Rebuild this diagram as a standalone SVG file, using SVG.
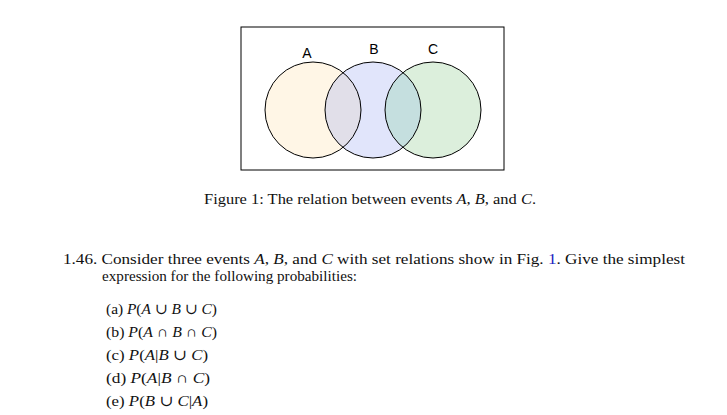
<svg xmlns="http://www.w3.org/2000/svg" width="727" height="415" viewBox="0 0 727 415">
<style>
.c{stroke:#000;stroke-width:1;fill:none}
.l{font-family:"Liberation Sans",Arial,sans-serif;font-size:14px}
.t{font-family:"Liberation Serif","DejaVu Serif",serif;font-size:15px;fill:#111}
.i{font-style:italic}
</style>
<defs>
<clipPath id="cA"><circle cx="313" cy="110" r="48"/></clipPath>
<clipPath id="cC"><circle cx="433" cy="110" r="48"/></clipPath>
</defs>
<rect width="727" height="415" fill="#fff"/>
<rect x="241" y="27" width="263" height="143" fill="#fff" stroke="#000"/>
<g id="A"><circle cx="313" cy="110" r="48" fill="#fff6e6"/></g>
<g id="C"><circle cx="433" cy="110" r="48" fill="#dcefdc"/></g>
<g id="B"><circle cx="373" cy="110" r="48" fill="#e1e5fb"/>
<circle cx="373" cy="110" r="48" fill="#e1dfe9" clip-path="url(#cA)"/>
<circle cx="373" cy="110" r="48" fill="#c5dfdf" clip-path="url(#cC)"/></g>
<g id="outlines">
<circle class="c" cx="313" cy="110" r="48"/>
<circle class="c" cx="373" cy="110" r="48"/>
<circle class="c" cx="433" cy="110" r="48"/>
</g>
<text class="l" x="307" y="58" text-anchor="middle">A</text>
<text class="l" x="374" y="54" text-anchor="middle">B</text>
<text class="l" x="433" y="54" text-anchor="middle">C</text>
<text class="t" x="204" y="204" textLength="332" lengthAdjust="spacingAndGlyphs">Figure 1: The relation between events <tspan class="i">A</tspan>, <tspan class="i">B</tspan>, and <tspan class="i">C</tspan>.</text>
<text class="t" x="63" y="264" textLength="622" lengthAdjust="spacingAndGlyphs">1.46. Consider three events <tspan class="i">A</tspan>, <tspan class="i">B</tspan>, and <tspan class="i">C</tspan> with set relations show in Fig. <tspan fill="#2020c0">1</tspan>.  Give the simplest</text>
<text class="t" x="102" y="281" textLength="255" lengthAdjust="spacingAndGlyphs">expression for the following probabilities:</text>
<text class="t" x="106" y="314" textLength="111" lengthAdjust="spacingAndGlyphs">(a)  <tspan class="i">P</tspan>(<tspan class="i">A</tspan> ∪ <tspan class="i">B</tspan> ∪ <tspan class="i">C</tspan>)</text>
<text class="t" x="106" y="337" textLength="111" lengthAdjust="spacingAndGlyphs">(b)  <tspan class="i">P</tspan>(<tspan class="i">A</tspan> ∩ <tspan class="i">B</tspan> ∩ <tspan class="i">C</tspan>)</text>
<text class="t" x="106" y="360" textLength="102" lengthAdjust="spacingAndGlyphs">(c)  <tspan class="i">P</tspan>(<tspan class="i">A</tspan>|<tspan class="i">B</tspan> ∪ <tspan class="i">C</tspan>)</text>
<text class="t" x="106" y="383" textLength="104" lengthAdjust="spacingAndGlyphs">(d)  <tspan class="i">P</tspan>(<tspan class="i">A</tspan>|<tspan class="i">B</tspan> ∩ <tspan class="i">C</tspan>)</text>
<text class="t" x="106" y="406" textLength="102" lengthAdjust="spacingAndGlyphs">(e)  <tspan class="i">P</tspan>(<tspan class="i">B</tspan> ∪ <tspan class="i">C</tspan>|<tspan class="i">A</tspan>)</text>
</svg>
